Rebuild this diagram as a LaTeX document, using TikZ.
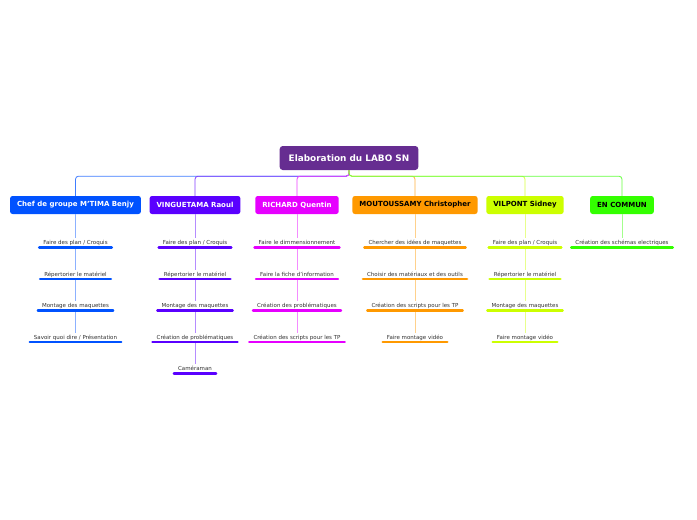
\documentclass[tikz,border=0pt]{standalone}
\usepackage{fontspec}
\setmainfont{DejaVu Sans}
\usetikzlibrary{positioning}
\definecolor{rootpurple}{HTML}{662D91}
\definecolor{cblue}{HTML}{0052FF}
\definecolor{cviolet}{HTML}{5A00FF}
\definecolor{cmagenta}{HTML}{E600FF}
\definecolor{corange}{HTML}{FF9900}
\definecolor{clime}{HTML}{CCFF00}
\definecolor{cgreen}{HTML}{33FF00}
\tikzset{
  mm/root/.style={rounded corners=3pt, fill=rootpurple, text=white, font=\fontsize{8.9}{10}\selectfont\bfseries, minimum height=24pt, inner xsep=9pt},
  mm/branch/.style={rounded corners=2.5pt, fill=#1, font=\fontsize{7}{8}\selectfont\bfseries, minimum height=18pt, inner xsep=7pt},
  mm/leaf/.style={font=\fontsize{5.5}{6.5}\selectfont, text=black!80, inner xsep=4pt, inner ysep=1.5pt, text height=4.5pt, text depth=1.3pt},
  mm/uline/.style={line width=2.5pt, line cap=round, draw=#1},
  mm/link/.style={draw=#1!75, line width=0.8pt, rounded corners=3pt},
  mm/stem/.style={draw=#1!45, line width=0.8pt}
}

\begin{document}
\begin{tikzpicture}[x=1pt, y=-1pt, node distance=22.3pt]
  \fill[white] (0,0) rectangle (697,520);
  \useasboundingbox (0,0) rectangle (697,520);

  % root and branches
  \node[mm/root] (labo) at (349,158) {Elaboration du LABO SN};
  \node[mm/branch=cblue, text=white] (benjy) at (75.5,205) {Chef de groupe M'TIMA Benjy};
  \node[mm/branch=cviolet, text=white] (raoul) at (195,205) {VINGUETAMA Raoul};
  \node[mm/branch=cmagenta, text=white] (quentin) at (297,205) {RICHARD Quentin};
  \node[mm/branch=corange] (christo) at (415,205) {MOUTOUSSAMY Christopher};
  \node[mm/branch=clime] (sidney) at (525,205) {VILPONT Sidney};
  \node[mm/branch=cgreen] (commun) at (622,205) {EN COMMUN};

  \foreach \b/\c in {benjy/cblue, raoul/cviolet, quentin/cmagenta, christo/corange, sidney/clime, commun/cgreen}
    \draw[mm/link=\c] (labo.south) -- ++(0,6) -| (\b.north);

  % Benjy
  \node[mm/leaf, below=24.2pt of benjy] (benjy1) {Faire des plan / Croquis};
  \node[mm/leaf, below=of benjy1] (benjy2) {Répertorier le matériel};
  \node[mm/leaf, below=of benjy2] (benjy3) {Montage des maquettes};
  \node[mm/leaf, below=of benjy3] (benjy4) {Savoir quoi dire / Présentation};

  % Raoul
  \node[mm/leaf, below=24.2pt of raoul] (raoul1) {Faire des plan / Croquis};
  \node[mm/leaf, below=of raoul1] (raoul2) {Répertorier le matériel};
  \node[mm/leaf, below=of raoul2] (raoul3) {Montage des maquettes};
  \node[mm/leaf, below=of raoul3] (raoul4) {Création de problématiques};
  \node[mm/leaf, below=of raoul4] (raoul5) {Caméraman};

  % Quentin
  \node[mm/leaf, below=24.2pt of quentin] (quentin1) {Faire le dimmensionnement};
  \node[mm/leaf, below=of quentin1] (quentin2) {Faire la fiche d'information};
  \node[mm/leaf, below=of quentin2] (quentin3) {Création des problématiques};
  \node[mm/leaf, below=of quentin3] (quentin4) {Création des scripts pour les TP};

  % Christopher
  \node[mm/leaf, below=24.2pt of christo] (christo1) {Chercher des idées de maquettes};
  \node[mm/leaf, below=of christo1] (christo2) {Choisir des matériaux et des outils};
  \node[mm/leaf, below=of christo2] (christo3) {Création des scripts pour les TP};
  \node[mm/leaf, below=of christo3] (christo4) {Faire montage vidéo};

  % Sidney
  \node[mm/leaf, below=24.2pt of sidney] (sidney1) {Faire des plan / Croquis};
  \node[mm/leaf, below=of sidney1] (sidney2) {Répertorier le matériel};
  \node[mm/leaf, below=of sidney2] (sidney3) {Montage des maquettes};
  \node[mm/leaf, below=of sidney3] (sidney4) {Faire montage vidéo};

  % en commun
  \node[mm/leaf, below=24.2pt of commun] (commun1) {Création des schémas electriques};

  % stems
  \foreach \a/\b/\c in {benjy/benjy1/cblue, benjy1/benjy2/cblue, benjy2/benjy3/cblue, benjy3/benjy4/cblue,
      raoul/raoul1/cviolet, raoul1/raoul2/cviolet, raoul2/raoul3/cviolet, raoul3/raoul4/cviolet, raoul4/raoul5/cviolet,
      quentin/quentin1/cmagenta, quentin1/quentin2/cmagenta, quentin2/quentin3/cmagenta, quentin3/quentin4/cmagenta,
      christo/christo1/corange, christo1/christo2/corange, christo2/christo3/corange, christo3/christo4/corange,
      sidney/sidney1/clime, sidney1/sidney2/clime, sidney2/sidney3/clime, sidney3/sidney4/clime,
      commun/commun1/cgreen}
    \draw[mm/stem=\c] (\a) -- (\b);

  % underlines
  \foreach \n/\c in {benjy1/cblue, benjy2/cblue, benjy3/cblue, benjy4/cblue,
      raoul1/cviolet, raoul2/cviolet, raoul3/cviolet, raoul4/cviolet, raoul5/cviolet,
      quentin1/cmagenta, quentin2/cmagenta, quentin3/cmagenta, quentin4/cmagenta,
      christo1/corange, christo2/corange, christo3/corange, christo4/corange,
      sidney1/clime, sidney2/clime, sidney3/clime, sidney4/clime,
      commun1/cgreen}
    \draw[mm/uline=\c] (\n.south west) -- (\n.south east);
\end{tikzpicture}
\end{document}
